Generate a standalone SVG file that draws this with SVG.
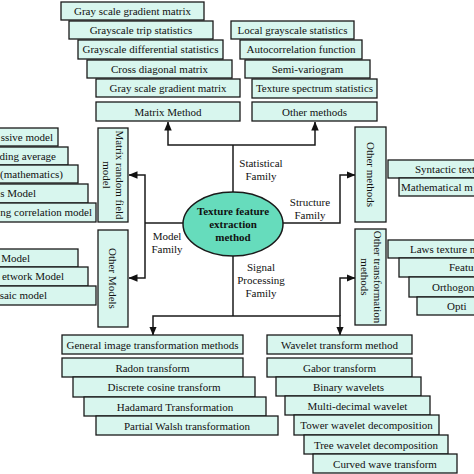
<svg xmlns="http://www.w3.org/2000/svg" width="474" height="474" viewBox="0 0 474 474">
<defs>
<marker id="ah" markerUnits="userSpaceOnUse" markerWidth="9" markerHeight="8" refX="8.5" refY="3.75" orient="auto">
<path d="M0,0 L9,3.75 L0,7.5 z" fill="#111"/>
</marker>
</defs>
<style>
.box{fill:#d8f6ee;stroke:#1a1a1a;stroke-width:1.3}
.t{font-family:"Liberation Serif","Times New Roman",serif;font-size:11px;fill:#111;text-anchor:middle}
.e{text-anchor:end}
.s{text-anchor:start}
.b{font-weight:bold}
.ln{fill:none;stroke:#1a1a1a;stroke-width:1.5}
</style>
<rect width="474" height="474" fill="#fff"/>

<g id="connectors">
<path class="ln" d="M233,192 V145"/>
<path class="ln" d="M233,145 H168 V122" marker-end="url(#ah)"/>
<path class="ln" d="M233,145 H315 V122" marker-end="url(#ah)"/>
<path class="ln" d="M183,223 H145"/>
<path class="ln" d="M145,223 V175 H129" marker-end="url(#ah)"/>
<path class="ln" d="M145,223 V278 H129" marker-end="url(#ah)"/>
<path class="ln" d="M283,223 H340 V175 H355" marker-end="url(#ah)"/>
<path class="ln" d="M233,256 V316"/>
<path class="ln" d="M233,316 H153 V335" marker-end="url(#ah)"/>
<path class="ln" d="M233,316 H340 V335" marker-end="url(#ah)"/>
<path class="ln" d="M340,316 V278 H355" marker-end="url(#ah)"/>
</g>

<g id="labels">
<text class="t" x="261" y="167">Statistical</text>
<text class="t" x="261" y="180">Family</text>
<text class="t" x="310" y="206">Structure</text>
<text class="t" x="310" y="219">Family</text>
<text class="t" x="167" y="240">Model</text>
<text class="t" x="167" y="253">Family</text>
<text class="t" x="261" y="271">Signal</text>
<text class="t" x="261" y="284">Processing</text>
<text class="t" x="261" y="297">Family</text>
</g>

<g id="center">
<ellipse cx="233" cy="224" rx="50" ry="32" fill="#66dcbc" stroke="#1a1a1a" stroke-width="1.5"/>
<text class="t b" x="233" y="215">Texture feature</text>
<text class="t b" x="233" y="228">extraction</text>
<text class="t b" x="233" y="241">method</text>
</g>

<g id="stat-matrix">
<g id="tl1"><rect class="box" x="61" y="2" width="143" height="18"/><text class="t" x="132.5" y="15">Gray scale gradient matrix</text></g>
<g id="tl2"><rect class="box" x="69" y="21" width="144" height="18"/><text class="t" x="141" y="34">Grayscale trip statistics</text></g>
<g id="tl3"><rect class="box" x="78" y="40" width="145" height="19"/><text class="t" x="150.5" y="53">Grayscale differential statistics</text></g>
<g id="tl4"><rect class="box" x="87" y="60" width="145" height="18"/><text class="t" x="159.5" y="73">Cross diagonal matrix</text></g>
<g id="tl5"><rect class="box" x="96" y="79" width="144" height="18"/><text class="t" x="168" y="92">Gray scale gradient matrix</text></g>
<g id="matrix-method"><rect class="box" x="96" y="102" width="144" height="19"/><text class="t" x="168" y="115.5">Matrix Method</text></g>
</g>

<g id="stat-other">
<g id="tr1"><rect class="box" x="231" y="21" width="123" height="18"/><text class="t" x="292.5" y="34">Local grayscale statistics</text></g>
<g id="tr2"><rect class="box" x="240" y="40" width="122" height="19"/><text class="t" x="301" y="53">Autocorrelation function</text></g>
<g id="tr3"><rect class="box" x="245" y="60" width="125" height="18"/><text class="t" x="307.5" y="73">Semi-variogram</text></g>
<g id="tr4"><rect class="box" x="252" y="79" width="125" height="19"/><text class="t" x="314.5" y="92">Texture spectrum statistics</text></g>
<g id="other-methods-top"><rect class="box" x="252" y="102" width="125" height="19"/><text class="t" x="314.5" y="115.5">Other methods</text></g>
</g>

<g id="model-left">
<g id="ml1"><rect class="box" x="-50" y="128" width="108" height="18"/><text class="t e" x="53" y="141">ssive model</text></g>
<g id="ml2"><rect class="box" x="-50" y="147" width="118" height="18"/><text class="t e" x="56" y="160">ding average</text></g>
<g id="ml3"><rect class="box" x="-50" y="165" width="128" height="18"/><text class="t e" x="63" y="178">(mathematics)</text></g>
<g id="ml4"><rect class="box" x="-50" y="184" width="138" height="19"/><text class="t e" x="36" y="197">s Model</text></g>
<g id="ml5"><rect class="box" x="-50" y="203" width="146" height="19"/><text class="t e" x="92" y="216">ng correlation model</text></g>
<g id="ml6"><rect class="box" x="-50" y="249" width="128" height="18"/><text class="t e" x="30" y="262">Model</text></g>
<g id="ml7"><rect class="box" x="-50" y="267" width="138" height="19"/><text class="t e" x="64" y="280">etwork Model</text></g>
<g id="ml8"><rect class="box" x="-50" y="286" width="146" height="19"/><text class="t e" x="47" y="299">saic model</text></g>
</g>

<g id="mrf">
<rect class="box" x="98" y="128" width="30" height="94"/>
<g transform="translate(113,175) rotate(90)">
<text class="t" x="0" y="-3">Matrix random field</text>
<text class="t" x="0" y="10">model</text>
</g>
</g>
<g id="other-models">
<rect class="box" x="98" y="230" width="30" height="97"/>
<g transform="translate(113,278.5) rotate(90)">
<text class="t" x="0" y="4">Other Models</text>
</g>
</g>

<g id="struct-other">
<rect class="box" x="355" y="127" width="31" height="95"/>
<g transform="translate(370.5,174.5) rotate(90)">
<text class="t" x="0" y="4">Other methods</text>
</g>
</g>
<g id="other-transform">
<rect class="box" x="355" y="229" width="31" height="96"/>
<g transform="translate(370.5,277) rotate(90)">
<text class="t" x="0" y="-3">Other transformation</text>
<text class="t" x="0" y="10">methods</text>
</g>
</g>

<g id="right-stacks">
<g id="rs1"><rect class="box" x="388" y="160" width="120" height="18"/><text class="t s" x="415" y="173">Syntactic text</text></g>
<g id="rs2"><rect class="box" x="399" y="178" width="120" height="18"/><text class="t s" x="401" y="191">Mathematical m</text></g>
<g id="rs3"><rect class="box" x="388" y="240" width="120" height="18"/><text class="t s" x="410" y="253">Laws texture m</text></g>
<g id="rs4"><rect class="box" x="399" y="258" width="120" height="19"/><text class="t s" x="449" y="271">Featu</text></g>
<g id="rs5"><rect class="box" x="409" y="277" width="120" height="20"/><text class="t s" x="432" y="291">Orthogon</text></g>
<g id="rs6"><rect class="box" x="417" y="297" width="120" height="18"/><text class="t s" x="447" y="310">Opti</text></g>
</g>

<g id="general-transform">
<g id="g0"><rect class="box" x="62" y="335" width="181" height="19"/><text class="t" x="152.5" y="348.5">General image transformation methods</text></g>
<g id="g1"><rect class="box" x="62" y="358" width="181" height="19"/><text class="t" x="152.5" y="371.5">Radon transform</text></g>
<g id="g2"><rect class="box" x="73" y="377" width="182" height="20"/><text class="t" x="164" y="391">Discrete cosine transform</text></g>
<g id="g3"><rect class="box" x="84" y="397" width="182" height="19"/><text class="t" x="175" y="410.5">Hadamard Transformation</text></g>
<g id="g4"><rect class="box" x="96" y="416" width="182" height="19"/><text class="t" x="187" y="429.5">Partial Walsh transformation</text></g>
</g>

<g id="wavelet">
<g id="w0"><rect class="box" x="267" y="335" width="145" height="19"/><text class="t" x="339.5" y="348.5">Wavelet transform method</text></g>
<g id="w1"><rect class="box" x="267" y="358" width="145" height="19"/><text class="t" x="339.5" y="371.5">Gabor transform</text></g>
<g id="w2"><rect class="box" x="276" y="377" width="145" height="19"/><text class="t" x="348.5" y="390.5">Binary wavelets</text></g>
<g id="w3"><rect class="box" x="285" y="396" width="145" height="19"/><text class="t" x="357.5" y="409.5">Multi-decimal wavelet</text></g>
<g id="w4"><rect class="box" x="294" y="415" width="145" height="20"/><text class="t" x="366.5" y="429">Tower wavelet decomposition</text></g>
<g id="w5"><rect class="box" x="304" y="435" width="144" height="19"/><text class="t" x="376" y="448.5">Tree wavelet decomposition</text></g>
<g id="w6"><rect class="box" x="313" y="454" width="144" height="19"/><text class="t" x="385" y="467.5">Curved wave transform</text></g>
</g>
</svg>
